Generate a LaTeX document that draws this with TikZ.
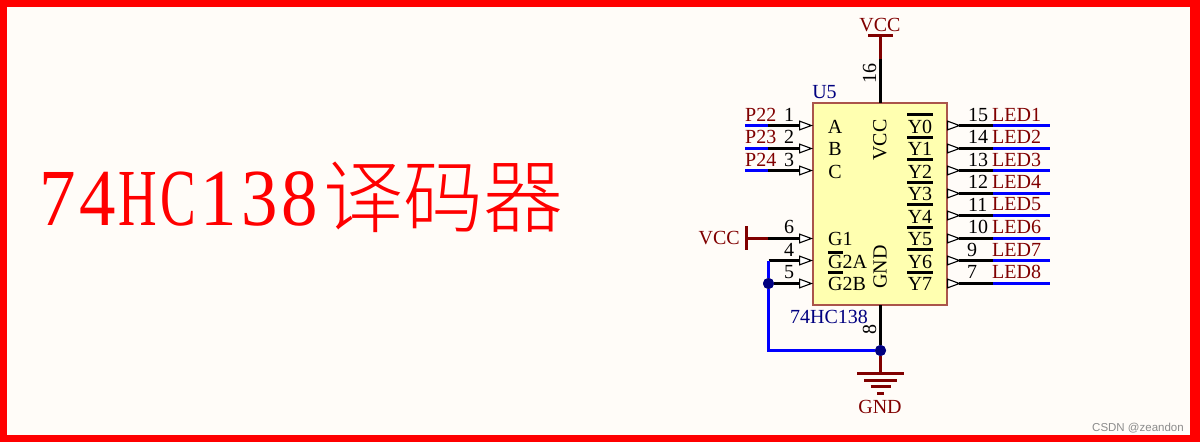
\documentclass[tikz,border=0pt]{standalone}
\usepackage{fontspec}
\setmainfont{Liberation Serif}
\newfontfamily\cjkfont{Noto Sans CJK SC Light}
\newfontfamily\markfont{Liberation Sans}
\usetikzlibrary{arrows.meta}
\definecolor{framered}{RGB}{255,0,0}
\definecolor{paper}{RGB}{255,252,248}
\definecolor{chipfill}{RGB}{255,255,176}
\definecolor{chipline}{RGB}{170,85,75}
\definecolor{darkred}{RGB}{128,0,0}
\definecolor{navyink}{RGB}{0,0,128}
\definecolor{wireblue}{RGB}{0,0,255}
\newcommand{\cellchar}[2]{\makebox[40.4pt]{\scalebox{#1}[1]{#2}}}
\tikzset{
  chip/.style={draw=chipline,fill=chipfill,line width=1.5pt,minimum width=134pt,minimum height=202pt,inner sep=0pt},
  txt/.style={inner sep=0pt,font=\fontsize{20}{22}\selectfont},
  redtxt/.style={txt,text=darkred},
  bluetxt/.style={txt,text=navyink},
  pinin/.style={black,line width=2.2pt,-{Triangle[open,length=14pt,width=10pt,line width=1.1pt,fill=white]}},
  pinout/.style={black,line width=2.2pt,{Triangle[open,reversed,length=14pt,width=10pt,line width=1.1pt,fill=white]}-},
  pinplain/.style={black,line width=2.2pt},
  netwire/.style={wireblue,line width=2.2pt},
  powerwire/.style={darkred,line width=2.2pt},
  notbar/.style={black,line width=2.4pt},
  dot/.style={circle,fill=navyink,minimum size=11pt,inner sep=0pt}
}
\begin{document}
\begin{tikzpicture}[x=1pt,y=-1pt]
    \useasboundingbox (0,0) rectangle (1200,442);
    \fill[framered] (0,0) rectangle (1200,442);
    \fill[paper] (7,7) rectangle (1190,435);

    % title and watermark
    \node[anchor=base west,inner sep=0pt,text=framered,font=\fontsize{81}{90}\selectfont] (title) at (37,225) {\cellchar{.9}{7}\cellchar{.9}{4}\cellchar{.66}{H}\cellchar{.66}{C}\cellchar{.9}{1}\cellchar{.9}{3}\cellchar{.9}{8}};
    \node[anchor=base west,inner sep=0pt,text=framered,font=\fontsize{80}{90}\selectfont\cjkfont] (titlecn) at (323,226) {译码器};
    \node[inner sep=0pt,text=black!45,font=\fontsize{11.5}{13}\selectfont\markfont] (mark) at (1138,428) {CSDN @zeandon};

    % the chip
    \node[chip] (U5) at (880,204) {};
    \node[bluetxt] (ref) at (824.5,92) {U5};
    \node[bluetxt] (part) at (829,317) {74HC138};

    % pin ends on the chip
    \coordinate (A1) at (813,125.5);
    \coordinate (A2) at (813,148.5);
    \coordinate (A3) at (813,170.5);
    \coordinate (A6) at (813,238.5);
    \coordinate (A4) at (813,260.5);
    \coordinate (A5) at (813,283.5);
    \coordinate (Y0) at (947,125.5);
    \coordinate (Y1) at (947,148.5);
    \coordinate (Y2) at (947,170.5);
    \coordinate (Y3) at (947,193.5);
    \coordinate (Y4) at (947,215.5);
    \coordinate (Y5) at (947,238.5);
    \coordinate (Y6) at (947,260.5);
    \coordinate (Y7) at (947,283.5);
    \coordinate (Vtop) at (880.5,103);
    \coordinate (Gbot) at (880.5,305);

    % where black pins meet the nets
    \coordinate (B1) at (768,125.5);
    \coordinate (B2) at (768,148.5);
    \coordinate (B3) at (768,170.5);
    \coordinate (B6) at (768,238.5);
    \coordinate (B4) at (768.5,260.5);
    \node[dot] (B5) at (768.5,283.5) {};
    \coordinate (Z0) at (993,125.5);
    \coordinate (Z1) at (993,148.5);
    \coordinate (Z2) at (993,170.5);
    \coordinate (Z3) at (993,193.5);
    \coordinate (Z4) at (993,215.5);
    \coordinate (Z5) at (993,238.5);
    \coordinate (Z6) at (993,260.5);
    \coordinate (Z7) at (993,283.5);
    \coordinate (Vpin) at (880.5,59);
    \node[dot] (Gnode) at (880.5,350.5) {};
    \coordinate (Corner) at (768.5,350.5);

    % free ends of the nets
    \coordinate (N1) at (745,125.5);
    \coordinate (N2) at (745,148.5);
    \coordinate (N3) at (745,170.5);
    \coordinate (E0) at (1050,125.5);
    \coordinate (E1) at (1050,148.5);
    \coordinate (E2) at (1050,170.5);
    \coordinate (E3) at (1050,193.5);
    \coordinate (E4) at (1050,215.5);
    \coordinate (E5) at (1050,238.5);
    \coordinate (E6) at (1050,260.5);
    \coordinate (E7) at (1050,283.5);

    % pins
    \draw[pinin] (B1) -- (A1);
    \draw[pinin] (B2) -- (A2);
    \draw[pinin] (B3) -- (A3);
    \draw[pinin] (B6) -- (A6);
    \draw[pinin] (B4) -- (A4);
    \draw[pinin] (B5) -- (A5);
    \draw[pinout] (Y0) -- (Z0);
    \draw[pinout] (Y1) -- (Z1);
    \draw[pinout] (Y2) -- (Z2);
    \draw[pinout] (Y3) -- (Z3);
    \draw[pinout] (Y4) -- (Z4);
    \draw[pinout] (Y5) -- (Z5);
    \draw[pinout] (Y6) -- (Z6);
    \draw[pinout] (Y7) -- (Z7);
    \draw[pinplain] (Vpin) -- (Vtop);
    \draw[pinplain] (Gbot) -- (Gnode);

    % nets
    \draw[netwire] (N1) -- (B1);
    \draw[netwire] (N2) -- (B2);
    \draw[netwire] (N3) -- (B3);
    \draw[netwire] (Z0) -- (E0);
    \draw[netwire] (Z1) -- (E1);
    \draw[netwire] (Z2) -- (E2);
    \draw[netwire] (Z3) -- (E3);
    \draw[netwire] (Z4) -- (E4);
    \draw[netwire] (Z5) -- (E5);
    \draw[netwire] (Z6) -- (E6);
    \draw[netwire] (Z7) -- (E7);
    \draw[netwire] (B4) -- (B5) -- (Corner) -- (Gnode);
    \node[dot] at (B5) {};
    \node[dot] at (Gnode) {};

    % power and ground symbols
    \coordinate (Vbar) at (880.5,35.5);
    \coordinate (VbarL) at (868,35.5);
    \coordinate (VbarR) at (893,35.5);
    \coordinate (Lbar) at (746.5,238.5);
    \coordinate (LbarT) at (746.5,226);
    \coordinate (LbarB) at (746.5,250);
    \coordinate (Gbar) at (880.5,373.5);
    \draw[powerwire] (Vbar) -- (Vpin);
    \draw[powerwire] (VbarL) -- (VbarR);
    \draw[powerwire] (Lbar) -- (B6);
    \draw[powerwire] (LbarT) -- (LbarB);
    \draw[powerwire] (Gnode) -- (Gbar);
    \draw[powerwire] (857,373.5) -- (904,373.5);
    \draw[powerwire] (864,380.5) -- (897,380.5);
    \draw[powerwire] (870.5,386.5) -- (890.5,386.5);
    \draw[powerwire] (877,393.5) -- (884,393.5);
    \node[redtxt] (vcctop) at (880,25) {VCC};
    \node[redtxt,anchor=east] (vccleft) at (740,238.5) {VCC};
    \node[redtxt] (gnd) at (880,406.5) {GND};

    % net names
    \node[redtxt,anchor=west] (p22) at (745,114.5) {P22};
    \node[redtxt,anchor=west] (p23) at (745,137) {P23};
    \node[redtxt,anchor=west] (p24) at (745,159.5) {P24};
    \node[redtxt,anchor=west] (led1) at (992,114.5) {LED1};
    \node[redtxt,anchor=west] (led2) at (992,137) {LED2};
    \node[redtxt,anchor=west] (led3) at (992,159.5) {LED3};
    \node[redtxt,anchor=west] (led4) at (992,182) {LED4};
    \node[redtxt,anchor=west] (led5) at (992,204.5) {LED5};
    \node[redtxt,anchor=west] (led6) at (992,227) {LED6};
    \node[redtxt,anchor=west] (led7) at (992,249.5) {LED7};
    \node[redtxt,anchor=west] (led8) at (992,272) {LED8};

    % pin numbers
    \node[txt] (n1) at (789,114.5) {1};
    \node[txt] (n2) at (789,137) {2};
    \node[txt] (n3) at (789,159.5) {3};
    \node[txt] (n6) at (789,227) {6};
    \node[txt] (n4) at (789,249.5) {4};
    \node[txt] (n5) at (789,272) {5};
    \node[txt,anchor=west] (n15) at (968,114.5) {15};
    \node[txt,anchor=west] (n14) at (968,137) {14};
    \node[txt,anchor=west] (n13) at (968,159.5) {13};
    \node[txt,anchor=west] (n12) at (968,182) {12};
    \node[txt,anchor=west] (n11) at (968,204.5) {11};
    \node[txt,anchor=west] (n10) at (968,227) {10};
    \node[txt,anchor=west] (n9) at (967,249.5) {9};
    \node[txt,anchor=west] (n7) at (967,272) {7};
    \node[txt,rotate=90] (n16) at (869.5,73) {16};
    \node[txt,rotate=90] (n8) at (869.5,329) {8};

    % names inside the chip
    \node[txt] (la) at (835,127) {A};
    \node[txt] (lb) at (835,149) {B};
    \node[txt] (lc) at (835,171.5) {C};
    \node[txt,rotate=90] (lvcc) at (880,140) {VCC};
    \node[txt,rotate=90] (lgnd) at (880,267) {GND};
    \node[txt,anchor=west] (lg1) at (828,239) {G1};
    \node[txt,anchor=west] (lg2a) at (828,261.5) {G2A};
    \node[txt,anchor=west] (lg2b) at (828,283.5) {G2B};
    \node[txt] (ly0) at (920,127) {Y0};
    \node[txt] (ly1) at (920,149) {Y1};
    \node[txt] (ly2) at (920,171.5) {Y2};
    \node[txt] (ly3) at (920,194) {Y3};
    \node[txt] (ly4) at (920,216.5) {Y4};
    \node[txt] (ly5) at (920,239) {Y5};
    \node[txt] (ly6) at (920,261.5) {Y6};
    \node[txt] (ly7) at (920,284) {Y7};

    % bars over the active low names
    \draw[notbar] (828,252.5) -- (843,252.5);
    \draw[notbar] (828,272.5) -- (843,272.5);
    \draw[notbar] (907,114.5) -- (933,114.5);
    \draw[notbar] (907,137.5) -- (933,137.5);
    \draw[notbar] (907,159.5) -- (933,159.5);
    \draw[notbar] (907,182.5) -- (933,182.5);
    \draw[notbar] (907,204.5) -- (933,204.5);
    \draw[notbar] (907,227.5) -- (933,227.5);
    \draw[notbar] (907,249.5) -- (933,249.5);
    \draw[notbar] (907,272.5) -- (933,272.5);
\end{tikzpicture}
\end{document}
